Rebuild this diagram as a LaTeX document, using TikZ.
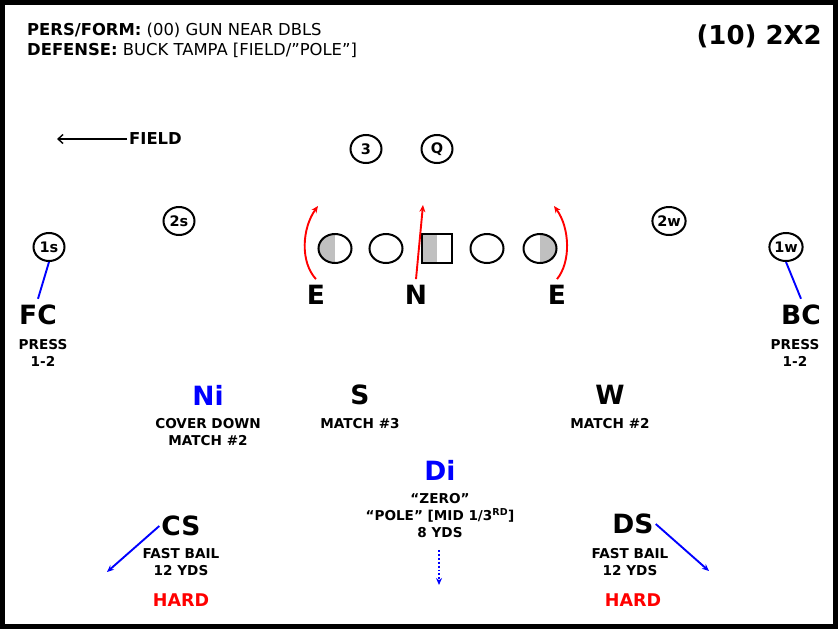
\documentclass[tikz,border=0pt]{standalone}
\usepackage{fontspec}
\setmainfont{DejaVu Sans}
\usetikzlibrary{arrows.meta,shapes.geometric}
\definecolor{silv}{RGB}{192,192,192}
\definecolor{bblue}{RGB}{0,0,255}
\definecolor{rred}{RGB}{255,0,0}
\begin{document}
\begin{tikzpicture}[x=1pt,y=-1pt,
  big/.style={font=\fontsize{26.5}{30}\selectfont\bfseries, inner sep=0pt},
  small/.style={font=\fontsize{13.6}{17}\selectfont\bfseries, align=center, inner sep=0pt},
  player/.style={draw, line width=2pt, ellipse, minimum width=31pt, minimum height=28pt, inner sep=0pt, font=\fontsize{14.5}{16}\selectfont\bfseries},
  oline/.style={draw, line width=2pt, ellipse, minimum width=33pt, minimum height=29pt, inner sep=0pt},
  lefthalf/.style={path picture={\fill[silv] (path picture bounding box.south west) rectangle (path picture bounding box.north);}},
  righthalf/.style={path picture={\fill[silv] (path picture bounding box.south) rectangle (path picture bounding box.north east);}},
  redarr/.style={draw=rred, line width=1.9pt, -{Stealth[length=7pt,width=6pt]}},
  blueline/.style={draw=bblue, line width=1.9pt},
  bluearr/.style={draw=bblue, line width=1.9pt, -{Stealth[length=7pt,width=6pt]}}
]
\useasboundingbox (0,0) rectangle (840,629);
\draw[line width=5pt] (2.5,2) rectangle (835.5,626.5);

% header
\node[anchor=base west, inner sep=0pt, font=\fontsize{16.4}{18}\selectfont] (h1) at (27,35.5) {\textbf{PERS/FORM:} (00) GUN NEAR DBLS};
\node[anchor=base west, inner sep=0pt, font=\fontsize{16.4}{18}\selectfont] (h2) at (27,55.5) {\textbf{DEFENSE:} BUCK TAMPA [FIELD/”POLE”]};
\node[anchor=base east, inner sep=0pt, font=\fontsize{26}{28}\selectfont\bfseries] (ttl) at (822,44) {(10) 2X2};

% field arrow
\node[anchor=west, inner sep=0pt, font=\fontsize{16.4}{18}\selectfont\bfseries] (field) at (129,139) {FIELD};
\coordinate (fieldtip) at (57,139);
\draw[line width=1.4pt, -{Straight Barb[length=5pt,width=9pt]}] ([xshift=-2pt]field.west) -- (fieldtip);

% offense
\node[player] (p3) at (366,149) {3};
\node[player] (pq) at (437,149) {Q};
\node[player] (p2s) at (179,221) {2s};
\node[player] (p2w) at (669,221) {2w};
\node[player] (p1s) at (49,247) {1s};
\node[player] (p1w) at (786,247) {1w};

\node[oline, lefthalf] (lt) at (335,248.5) {};
\node[oline] (lg) at (386,248.5) {};
\node[draw, line width=2pt, rectangle, minimum width=30pt, minimum height=29pt, inner sep=0pt, lefthalf] (c) at (437,248.5) {};
\node[oline] (rg) at (487,248.5) {};
\node[oline, righthalf] (rt) at (540,248.5) {};

% defensive line
\node[big] (e1) at (316,295) {E};
\node[big] (n) at (416,295) {N};
\node[big] (e2) at (557,295) {E};
\coordinate (e1t) at (318,206);
\coordinate (nt) at (423,205);
\coordinate (e2t) at (554,206);
\draw[redarr] ([yshift=6pt]e1.north) .. controls (300,262) and (302,228) .. (e1t);
\draw[redarr] ([yshift=6pt]n.north) -- (nt);
\draw[redarr] ([yshift=6pt]e2.north) .. controls (571,262) and (570,228) .. (e2t);

% corners
\node[big] (fc) at (38,315) {FC};
\node[small] (fct) at (43,352.5) {PRESS\\1-2};
\draw[blueline] ([yshift=6pt]fc.north) -- (p1s.south);
\node[big] (bc) at (801,315) {BC};
\node[small] (bct) at (795,352.5) {PRESS\\1-2};
\draw[blueline] ([yshift=6pt]bc.north) -- (p1w.south);

% second level
\node[big, text=bblue] (ni) at (208,395) {Ni};
\node[small] (nit) at (208,432.5) {COVER DOWN\\MATCH \#2};
\node[big] (s) at (360,395) {S};
\node[small] (st) at (360,424) {MATCH \#3};
\node[big] (w) at (610,395) {W};
\node[small] (wt) at (610,424) {MATCH \#2};

% deep
\node[big, text=bblue] (di) at (440,470) {Di};
\node[small] (dit) at (440,515.5) {“ZERO”\\“POLE” [MID 1/3\textsuperscript{RD}]\\8 YDS};
\coordinate (dtip) at (439,585);
\draw[bluearr, dotted] (439,550) -- (dtip);

\node[big] (cs) at (181,526) {CS};
\node[small] (cst) at (181,562.5) {FAST BAIL\\12 YDS};
\node[small, font=\fontsize{17.5}{20}\selectfont\bfseries, text=rred] (csh) at (181,600) {HARD};
\coordinate (cstip) at (107,572);
\draw[bluearr] ([xshift=-2pt]cs.west) -- (cstip);

\node[big] (ds) at (633,524) {DS};
\node[small] (dst) at (630,562.5) {FAST BAIL\\12 YDS};
\node[small, font=\fontsize{17.5}{20}\selectfont\bfseries, text=rred] (dsh) at (633,600) {HARD};
\coordinate (dstip) at (709,571);
\draw[bluearr] ([xshift=2pt]ds.east) -- (dstip);
\end{tikzpicture}
\end{document}
